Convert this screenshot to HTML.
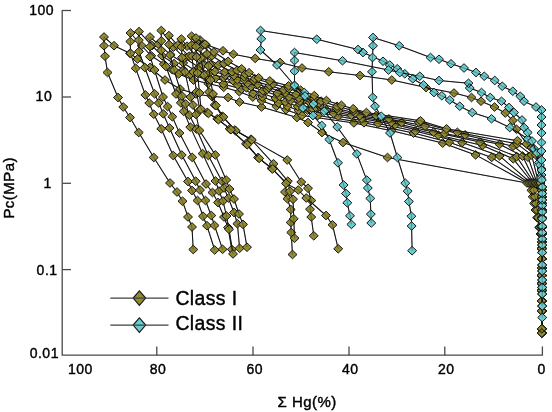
<!DOCTYPE html>
<html lang="en">
<head>
<meta charset="utf-8">
<title>Pc vs Hg saturation</title>
<style>
html,body{margin:0;padding:0;background:#fff;}
body{width:552px;height:412px;overflow:hidden;}
svg{display:block;}
</style>
</head>
<body>
<svg width="552" height="412" viewBox="0 0 552 412">
<rect width="552" height="412" fill="#fff"/>
<path d="M541.8 333.0L541.8 328.8L541.8 311.0L541.8 301.0L541.8 290.5L541.8 283.5L541.8 275.5L541.8 268.0L541.8 258.8L541.8 248.5L541.8 242.0L541.8 234.0L541.8 227.4L541.8 217.6L541.8 210.0L541.8 203.4L541.8 196.8L541.8 190.3L537.8 183.8L529.5 183.5L387.5 157.5L343.0 142.5L322.0 132.5L308.0 122.5L297.0 117.5L261.5 107.0L239.5 102.0L228.0 97.5L212.0 96.5L196.0 94.0L180.0 89.0L165.0 80.0L150.0 67.5L137.5 59.0L130.0 53.3L114.0 45.7L104.0 37.0L104.0 45.8L105.0 56.2L107.5 72.5L118.0 97.5L123.2 107.0L130.0 117.5L138.8 132.5L153.8 157.5L170.0 183.0L177.0 192.0L182.5 201.2L188.0 217.0L192.0 227.0L193.2 249.5" fill="none" stroke="#151515" stroke-width="1.05" stroke-linejoin="round"/>
<path d="M541.8 328.7L546.3 333.0L541.8 337.3L537.3 333.0ZM541.8 324.4L546.3 328.8L541.8 333.1L537.3 328.8ZM541.8 306.7L546.3 311.0L541.8 315.3L537.3 311.0ZM541.8 296.7L546.3 301.0L541.8 305.3L537.3 301.0ZM541.8 286.2L546.3 290.5L541.8 294.8L537.3 290.5ZM541.8 279.2L546.3 283.5L541.8 287.8L537.3 283.5ZM541.8 271.2L546.3 275.5L541.8 279.8L537.3 275.5ZM541.8 263.7L546.3 268.0L541.8 272.3L537.3 268.0ZM541.8 254.4L546.3 258.8L541.8 263.1L537.3 258.8ZM541.8 244.2L546.3 248.5L541.8 252.8L537.3 248.5ZM541.8 237.7L546.3 242.0L541.8 246.3L537.3 242.0ZM541.8 229.7L546.3 234.0L541.8 238.3L537.3 234.0ZM541.8 223.1L546.3 227.4L541.8 231.7L537.3 227.4ZM541.8 213.3L546.3 217.6L541.8 221.9L537.3 217.6ZM541.8 205.7L546.3 210.0L541.8 214.3L537.3 210.0ZM541.8 199.1L546.3 203.4L541.8 207.7L537.3 203.4ZM541.8 192.5L546.3 196.8L541.8 201.1L537.3 196.8ZM541.8 186.0L546.3 190.3L541.8 194.6L537.3 190.3ZM537.8 179.4L542.2 183.8L537.8 188.1L533.2 183.8ZM529.5 179.2L534.0 183.5L529.5 187.8L525.0 183.5ZM387.5 153.2L392.0 157.5L387.5 161.8L383.0 157.5ZM343.0 138.2L347.5 142.5L343.0 146.8L338.5 142.5ZM322.0 128.2L326.5 132.5L322.0 136.8L317.5 132.5ZM308.0 118.2L312.5 122.5L308.0 126.8L303.5 122.5ZM297.0 113.2L301.5 117.5L297.0 121.8L292.5 117.5ZM261.5 102.7L266.0 107.0L261.5 111.3L257.0 107.0ZM239.5 97.7L244.0 102.0L239.5 106.3L235.0 102.0ZM228.0 93.2L232.5 97.5L228.0 101.8L223.5 97.5ZM212.0 92.2L216.5 96.5L212.0 100.8L207.5 96.5ZM196.0 89.7L200.5 94.0L196.0 98.3L191.5 94.0ZM180.0 84.7L184.5 89.0L180.0 93.3L175.5 89.0ZM165.0 75.7L169.5 80.0L165.0 84.3L160.5 80.0ZM150.0 63.2L154.5 67.5L150.0 71.8L145.5 67.5ZM137.5 54.7L142.0 59.0L137.5 63.3L133.0 59.0ZM130.0 49.0L134.5 53.3L130.0 57.6L125.5 53.3ZM114.0 41.4L118.5 45.7L114.0 50.0L109.5 45.7ZM104.0 32.7L108.5 37.0L104.0 41.3L99.5 37.0ZM104.0 41.5L108.5 45.8L104.0 50.0L99.5 45.8ZM105.0 52.0L109.5 56.2L105.0 60.5L100.5 56.2ZM107.5 68.2L112.0 72.5L107.5 76.8L103.0 72.5ZM118.0 93.2L122.5 97.5L118.0 101.8L113.5 97.5ZM123.2 102.7L127.8 107.0L123.2 111.3L118.8 107.0ZM130.0 113.2L134.5 117.5L130.0 121.8L125.5 117.5ZM138.8 128.2L143.2 132.5L138.8 136.8L134.2 132.5ZM153.8 153.2L158.2 157.5L153.8 161.8L149.2 157.5ZM170.0 178.7L174.5 183.0L170.0 187.3L165.5 183.0ZM177.0 187.7L181.5 192.0L177.0 196.3L172.5 192.0ZM182.5 196.9L187.0 201.2L182.5 205.6L178.0 201.2ZM188.0 212.7L192.5 217.0L188.0 221.3L183.5 217.0ZM192.0 222.7L196.5 227.0L192.0 231.3L187.5 227.0ZM193.2 245.2L197.8 249.5L193.2 253.8L188.8 249.5Z" fill="#938b31" stroke="#151515" stroke-width="1.0" stroke-linejoin="miter"/>
<path d="M541.8 333.0L541.8 328.8L541.8 311.0L541.8 301.0L541.8 290.5L541.8 283.5L541.8 275.5L541.8 268.0L541.8 258.8L541.8 248.5L541.8 242.0L541.8 234.0L541.8 227.4L541.8 217.6L541.8 210.0L541.8 203.4L541.8 196.8L541.8 190.3L537.8 183.8L529.5 183.5L387.5 157.5L343.0 142.5L322.0 132.5L308.0 122.5L297.0 117.5L261.5 107.0L239.5 102.0L228.0 97.5L212.0 96.5L196.0 94.0L180.0 89.0L165.0 80.0L150.0 67.5L137.5 59.0L130.0 53.3L114.0 45.7L104.0 37.0L104.0 45.8L105.0 56.2L107.5 72.5L118.0 97.5L123.2 107.0L130.0 117.5L138.8 132.5L153.8 157.5L170.0 183.0L177.0 192.0L182.5 201.2L188.0 217.0L192.0 227.0L193.2 249.5" fill="none" stroke="#151515" stroke-width="0.9" stroke-opacity="0.4" stroke-linejoin="round"/>
<path d="M541.8 333.0L541.8 328.8L541.8 311.0L541.8 301.0L541.8 290.5L541.8 283.5L541.8 275.5L541.8 268.0L541.8 258.8L541.8 248.5L541.8 242.0L541.8 234.0L541.8 227.4L541.8 217.6L541.8 210.0L541.8 203.4L541.8 196.8L541.8 190.3L527.0 183.0L475.6 154.9L442.7 143.1L391.6 130.7L353.9 122.9L302.0 115.4L286.0 109.7L276.4 106.3L261.6 100.7L252.8 97.1L239.3 91.7L223.7 87.3L208.3 83.6L193.5 80.1L178.7 73.9L172.2 69.6L163.8 64.1L151.3 55.8L141.5 45.5L130.5 33.0L130.3 41.5L130.5 53.3L135.7 68.3L145.4 95.0L149.2 103.0L153.8 114.2L161.2 128.8L173.2 155.5L188.0 181.5L192.0 190.5L197.5 200.5L203.0 216.2L207.0 225.8L214.7 250.0" fill="none" stroke="#151515" stroke-width="1.05" stroke-linejoin="round"/>
<path d="M541.8 328.7L546.3 333.0L541.8 337.3L537.3 333.0ZM541.8 324.4L546.3 328.8L541.8 333.1L537.3 328.8ZM541.8 306.7L546.3 311.0L541.8 315.3L537.3 311.0ZM541.8 296.7L546.3 301.0L541.8 305.3L537.3 301.0ZM541.8 286.2L546.3 290.5L541.8 294.8L537.3 290.5ZM541.8 279.2L546.3 283.5L541.8 287.8L537.3 283.5ZM541.8 271.2L546.3 275.5L541.8 279.8L537.3 275.5ZM541.8 263.7L546.3 268.0L541.8 272.3L537.3 268.0ZM541.8 254.4L546.3 258.8L541.8 263.1L537.3 258.8ZM541.8 244.2L546.3 248.5L541.8 252.8L537.3 248.5ZM541.8 237.7L546.3 242.0L541.8 246.3L537.3 242.0ZM541.8 229.7L546.3 234.0L541.8 238.3L537.3 234.0ZM541.8 223.1L546.3 227.4L541.8 231.7L537.3 227.4ZM541.8 213.3L546.3 217.6L541.8 221.9L537.3 217.6ZM541.8 205.7L546.3 210.0L541.8 214.3L537.3 210.0ZM541.8 199.1L546.3 203.4L541.8 207.7L537.3 203.4ZM541.8 192.5L546.3 196.8L541.8 201.1L537.3 196.8ZM541.8 186.0L546.3 190.3L541.8 194.6L537.3 190.3ZM527.0 178.7L531.5 183.0L527.0 187.3L522.5 183.0ZM475.6 150.6L480.1 154.9L475.6 159.2L471.1 154.9ZM442.7 138.8L447.2 143.1L442.7 147.4L438.2 143.1ZM391.6 126.4L396.1 130.7L391.6 135.0L387.1 130.7ZM353.9 118.6L358.4 122.9L353.9 127.2L349.4 122.9ZM302.0 111.1L306.5 115.4L302.0 119.7L297.5 115.4ZM286.0 105.4L290.5 109.7L286.0 114.0L281.5 109.7ZM276.4 102.0L280.9 106.3L276.4 110.6L271.9 106.3ZM261.6 96.4L266.1 100.7L261.6 105.0L257.1 100.7ZM252.8 92.8L257.3 97.1L252.8 101.4L248.3 97.1ZM239.3 87.4L243.8 91.7L239.3 96.0L234.8 91.7ZM223.7 83.0L228.2 87.3L223.7 91.6L219.2 87.3ZM208.3 79.3L212.8 83.6L208.3 87.9L203.8 83.6ZM193.5 75.8L198.0 80.1L193.5 84.4L189.0 80.1ZM178.7 69.6L183.2 73.9L178.7 78.2L174.2 73.9ZM172.2 65.3L176.7 69.6L172.2 73.9L167.7 69.6ZM163.8 59.8L168.3 64.1L163.8 68.4L159.3 64.1ZM151.3 51.5L155.8 55.8L151.3 60.1L146.8 55.8ZM141.5 41.2L146.0 45.5L141.5 49.8L137.0 45.5ZM130.5 28.7L135.0 33.0L130.5 37.3L126.0 33.0ZM130.3 37.2L134.8 41.5L130.3 45.8L125.8 41.5ZM130.5 49.0L135.0 53.3L130.5 57.6L126.0 53.3ZM135.7 64.0L140.2 68.3L135.7 72.6L131.2 68.3ZM145.4 90.7L149.9 95.0L145.4 99.3L140.9 95.0ZM149.2 98.7L153.8 103.0L149.2 107.3L144.8 103.0ZM153.8 110.0L158.2 114.2L153.8 118.5L149.2 114.2ZM161.2 124.5L165.8 128.8L161.2 133.1L156.8 128.8ZM173.2 151.2L177.8 155.5L173.2 159.8L168.8 155.5ZM188.0 177.2L192.5 181.5L188.0 185.8L183.5 181.5ZM192.0 186.2L196.5 190.5L192.0 194.8L187.5 190.5ZM197.5 196.2L202.0 200.5L197.5 204.8L193.0 200.5ZM203.0 211.9L207.5 216.2L203.0 220.6L198.5 216.2ZM207.0 221.4L211.5 225.8L207.0 230.1L202.5 225.8ZM214.7 245.7L219.2 250.0L214.7 254.3L210.2 250.0Z" fill="#938b31" stroke="#151515" stroke-width="1.0" stroke-linejoin="miter"/>
<path d="M541.8 333.0L541.8 328.8L541.8 311.0L541.8 301.0L541.8 290.5L541.8 283.5L541.8 275.5L541.8 268.0L541.8 258.8L541.8 248.5L541.8 242.0L541.8 234.0L541.8 227.4L541.8 217.6L541.8 210.0L541.8 203.4L541.8 196.8L541.8 190.3L527.0 183.0L475.6 154.9L442.7 143.1L391.6 130.7L353.9 122.9L302.0 115.4L286.0 109.7L276.4 106.3L261.6 100.7L252.8 97.1L239.3 91.7L223.7 87.3L208.3 83.6L193.5 80.1L178.7 73.9L172.2 69.6L163.8 64.1L151.3 55.8L141.5 45.5L130.5 33.0L130.3 41.5L130.5 53.3L135.7 68.3L145.4 95.0L149.2 103.0L153.8 114.2L161.2 128.8L173.2 155.5L188.0 181.5L192.0 190.5L197.5 200.5L203.0 216.2L207.0 225.8L214.7 250.0" fill="none" stroke="#151515" stroke-width="0.9" stroke-opacity="0.4" stroke-linejoin="round"/>
<path d="M541.8 333.0L541.8 328.8L541.8 311.0L541.8 301.0L541.8 290.5L541.8 283.5L541.8 275.5L541.8 268.0L541.8 258.8L541.8 248.5L541.8 242.0L541.8 234.0L541.8 227.4L541.8 217.6L541.8 210.0L541.8 203.4L541.8 196.8L541.8 190.3L529.1 183.0L491.7 157.4L449.2 142.2L413.5 133.1L364.0 122.8L317.9 115.4L298.5 110.4L287.5 106.3L278.5 103.0L262.4 97.0L253.1 93.5L241.6 89.1L223.4 84.0L208.1 79.9L190.3 74.2L183.4 69.7L174.0 63.6L162.0 55.7L152.0 45.6L139.0 31.6L138.8 40.2L139.0 51.5L144.8 67.5L154.6 93.8L158.8 103.0L163.2 113.8L169.5 128.0L181.8 155.0L195.8 181.2L200.0 190.0L205.5 200.5L211.2 215.5L214.5 225.5L222.6 249.3" fill="none" stroke="#151515" stroke-width="1.05" stroke-linejoin="round"/>
<path d="M541.8 328.7L546.3 333.0L541.8 337.3L537.3 333.0ZM541.8 324.4L546.3 328.8L541.8 333.1L537.3 328.8ZM541.8 306.7L546.3 311.0L541.8 315.3L537.3 311.0ZM541.8 296.7L546.3 301.0L541.8 305.3L537.3 301.0ZM541.8 286.2L546.3 290.5L541.8 294.8L537.3 290.5ZM541.8 279.2L546.3 283.5L541.8 287.8L537.3 283.5ZM541.8 271.2L546.3 275.5L541.8 279.8L537.3 275.5ZM541.8 263.7L546.3 268.0L541.8 272.3L537.3 268.0ZM541.8 254.4L546.3 258.8L541.8 263.1L537.3 258.8ZM541.8 244.2L546.3 248.5L541.8 252.8L537.3 248.5ZM541.8 237.7L546.3 242.0L541.8 246.3L537.3 242.0ZM541.8 229.7L546.3 234.0L541.8 238.3L537.3 234.0ZM541.8 223.1L546.3 227.4L541.8 231.7L537.3 227.4ZM541.8 213.3L546.3 217.6L541.8 221.9L537.3 217.6ZM541.8 205.7L546.3 210.0L541.8 214.3L537.3 210.0ZM541.8 199.1L546.3 203.4L541.8 207.7L537.3 203.4ZM541.8 192.5L546.3 196.8L541.8 201.1L537.3 196.8ZM541.8 186.0L546.3 190.3L541.8 194.6L537.3 190.3ZM529.1 178.7L533.6 183.0L529.1 187.3L524.6 183.0ZM491.7 153.1L496.2 157.4L491.7 161.7L487.2 157.4ZM449.2 137.9L453.7 142.2L449.2 146.5L444.7 142.2ZM413.5 128.8L418.0 133.1L413.5 137.4L409.0 133.1ZM364.0 118.5L368.5 122.8L364.0 127.1L359.5 122.8ZM317.9 111.1L322.4 115.4L317.9 119.7L313.4 115.4ZM298.5 106.1L303.0 110.4L298.5 114.7L294.0 110.4ZM287.5 102.0L292.0 106.3L287.5 110.6L283.0 106.3ZM278.5 98.7L283.0 103.0L278.5 107.3L274.0 103.0ZM262.4 92.7L266.9 97.0L262.4 101.3L257.9 97.0ZM253.1 89.2L257.6 93.5L253.1 97.8L248.6 93.5ZM241.6 84.8L246.1 89.1L241.6 93.4L237.1 89.1ZM223.4 79.7L227.9 84.0L223.4 88.3L218.9 84.0ZM208.1 75.6L212.6 79.9L208.1 84.2L203.6 79.9ZM190.3 69.9L194.8 74.2L190.3 78.5L185.8 74.2ZM183.4 65.4L187.9 69.7L183.4 74.0L178.9 69.7ZM174.0 59.3L178.5 63.6L174.0 67.9L169.5 63.6ZM162.0 51.4L166.5 55.7L162.0 60.0L157.5 55.7ZM152.0 41.3L156.5 45.6L152.0 49.9L147.5 45.6ZM139.0 27.3L143.5 31.6L139.0 35.9L134.5 31.6ZM138.8 35.9L143.3 40.2L138.8 44.5L134.3 40.2ZM139.0 47.2L143.5 51.5L139.0 55.8L134.5 51.5ZM144.8 63.2L149.3 67.5L144.8 71.8L140.3 67.5ZM154.6 89.5L159.1 93.8L154.6 98.1L150.1 93.8ZM158.8 98.7L163.2 103.0L158.8 107.3L154.2 103.0ZM163.2 109.5L167.8 113.8L163.2 118.0L158.8 113.8ZM169.5 123.7L174.0 128.0L169.5 132.3L165.0 128.0ZM181.8 150.7L186.2 155.0L181.8 159.3L177.2 155.0ZM195.8 176.9L200.2 181.2L195.8 185.6L191.2 181.2ZM200.0 185.7L204.5 190.0L200.0 194.3L195.5 190.0ZM205.5 196.2L210.0 200.5L205.5 204.8L201.0 200.5ZM211.2 211.2L215.8 215.5L211.2 219.8L206.8 215.5ZM214.5 221.2L219.0 225.5L214.5 229.8L210.0 225.5ZM222.6 245.0L227.1 249.3L222.6 253.6L218.1 249.3Z" fill="#938b31" stroke="#151515" stroke-width="1.0" stroke-linejoin="miter"/>
<path d="M541.8 333.0L541.8 328.8L541.8 311.0L541.8 301.0L541.8 290.5L541.8 283.5L541.8 275.5L541.8 268.0L541.8 258.8L541.8 248.5L541.8 242.0L541.8 234.0L541.8 227.4L541.8 217.6L541.8 210.0L541.8 203.4L541.8 196.8L541.8 190.3L529.1 183.0L491.7 157.4L449.2 142.2L413.5 133.1L364.0 122.8L317.9 115.4L298.5 110.4L287.5 106.3L278.5 103.0L262.4 97.0L253.1 93.5L241.6 89.1L223.4 84.0L208.1 79.9L190.3 74.2L183.4 69.7L174.0 63.6L162.0 55.7L152.0 45.6L139.0 31.6L138.8 40.2L139.0 51.5L144.8 67.5L154.6 93.8L158.8 103.0L163.2 113.8L169.5 128.0L181.8 155.0L195.8 181.2L200.0 190.0L205.5 200.5L211.2 215.5L214.5 225.5L222.6 249.3" fill="none" stroke="#151515" stroke-width="0.9" stroke-opacity="0.4" stroke-linejoin="round"/>
<path d="M541.8 333.0L541.8 328.8L541.8 311.0L541.8 301.0L541.8 290.5L541.8 283.5L541.8 275.5L541.8 268.0L541.8 258.8L541.8 248.5L541.8 242.0L540.5 234.0L539.2 227.4L537.1 217.6L535.5 210.0L534.1 203.4L532.7 196.8L531.4 190.3L531.0 183.0L499.6 155.9L462.2 142.6L415.6 131.2L378.0 123.4L338.0 116.2L307.6 110.1L297.7 106.4L285.3 101.8L275.4 98.1L261.9 93.2L246.4 87.7L237.6 84.9L215.4 78.3L202.6 74.5L195.4 70.8L183.2 62.9L170.6 54.7L158.2 44.1L150.0 37.0L150.0 46.6L150.0 56.7L154.5 70.0L163.0 97.0L167.6 106.6L172.3 116.7L179.5 133.1L192.2 157.4L206.0 184.0L212.5 192.5L218.0 202.5L224.0 217.0L228.0 227.5L231.8 249.4" fill="none" stroke="#151515" stroke-width="1.05" stroke-linejoin="round"/>
<path d="M541.8 328.7L546.3 333.0L541.8 337.3L537.3 333.0ZM541.8 324.4L546.3 328.8L541.8 333.1L537.3 328.8ZM541.8 306.7L546.3 311.0L541.8 315.3L537.3 311.0ZM541.8 296.7L546.3 301.0L541.8 305.3L537.3 301.0ZM541.8 286.2L546.3 290.5L541.8 294.8L537.3 290.5ZM541.8 279.2L546.3 283.5L541.8 287.8L537.3 283.5ZM541.8 271.2L546.3 275.5L541.8 279.8L537.3 275.5ZM541.8 263.7L546.3 268.0L541.8 272.3L537.3 268.0ZM541.8 254.4L546.3 258.8L541.8 263.1L537.3 258.8ZM541.8 244.2L546.3 248.5L541.8 252.8L537.3 248.5ZM541.8 237.7L546.3 242.0L541.8 246.3L537.3 242.0ZM540.5 229.7L545.0 234.0L540.5 238.3L536.0 234.0ZM539.2 223.1L543.7 227.4L539.2 231.7L534.7 227.4ZM537.1 213.3L541.6 217.6L537.1 221.9L532.6 217.6ZM535.5 205.7L540.0 210.0L535.5 214.3L531.0 210.0ZM534.1 199.1L538.6 203.4L534.1 207.7L529.6 203.4ZM532.7 192.5L537.2 196.8L532.7 201.1L528.2 196.8ZM531.4 186.0L535.9 190.3L531.4 194.6L526.9 190.3ZM531.0 178.7L535.5 183.0L531.0 187.3L526.5 183.0ZM499.6 151.6L504.1 155.9L499.6 160.2L495.1 155.9ZM462.2 138.3L466.7 142.6L462.2 146.9L457.7 142.6ZM415.6 126.9L420.1 131.2L415.6 135.5L411.1 131.2ZM378.0 119.1L382.5 123.4L378.0 127.7L373.5 123.4ZM338.0 111.9L342.5 116.2L338.0 120.5L333.5 116.2ZM307.6 105.8L312.1 110.1L307.6 114.4L303.1 110.1ZM297.7 102.1L302.2 106.4L297.7 110.7L293.2 106.4ZM285.3 97.5L289.8 101.8L285.3 106.1L280.8 101.8ZM275.4 93.8L279.9 98.1L275.4 102.4L270.9 98.1ZM261.9 88.9L266.4 93.2L261.9 97.5L257.4 93.2ZM246.4 83.4L250.9 87.7L246.4 92.0L241.9 87.7ZM237.6 80.6L242.1 84.9L237.6 89.2L233.1 84.9ZM215.4 74.0L219.9 78.3L215.4 82.6L210.9 78.3ZM202.6 70.2L207.1 74.5L202.6 78.8L198.1 74.5ZM195.4 66.5L199.9 70.8L195.4 75.1L190.9 70.8ZM183.2 58.6L187.7 62.9L183.2 67.2L178.7 62.9ZM170.6 50.4L175.1 54.7L170.6 59.0L166.1 54.7ZM158.2 39.8L162.7 44.1L158.2 48.4L153.7 44.1ZM150.0 32.7L154.5 37.0L150.0 41.3L145.5 37.0ZM150.0 42.3L154.5 46.6L150.0 50.9L145.5 46.6ZM150.0 52.4L154.5 56.7L150.0 61.0L145.5 56.7ZM154.5 65.7L159.0 70.0L154.5 74.3L150.0 70.0ZM163.0 92.7L167.5 97.0L163.0 101.3L158.5 97.0ZM167.6 102.3L172.1 106.6L167.6 110.9L163.1 106.6ZM172.3 112.4L176.8 116.7L172.3 121.0L167.8 116.7ZM179.5 128.8L184.0 133.1L179.5 137.4L175.0 133.1ZM192.2 153.1L196.7 157.4L192.2 161.7L187.7 157.4ZM206.0 179.7L210.5 184.0L206.0 188.3L201.5 184.0ZM212.5 188.2L217.0 192.5L212.5 196.8L208.0 192.5ZM218.0 198.2L222.5 202.5L218.0 206.8L213.5 202.5ZM224.0 212.7L228.5 217.0L224.0 221.3L219.5 217.0ZM228.0 223.2L232.5 227.5L228.0 231.8L223.5 227.5ZM231.8 245.1L236.3 249.4L231.8 253.7L227.3 249.4Z" fill="#938b31" stroke="#151515" stroke-width="1.0" stroke-linejoin="miter"/>
<path d="M541.8 333.0L541.8 328.8L541.8 311.0L541.8 301.0L541.8 290.5L541.8 283.5L541.8 275.5L541.8 268.0L541.8 258.8L541.8 248.5L541.8 242.0L540.5 234.0L539.2 227.4L537.1 217.6L535.5 210.0L534.1 203.4L532.7 196.8L531.4 190.3L531.0 183.0L499.6 155.9L462.2 142.6L415.6 131.2L378.0 123.4L338.0 116.2L307.6 110.1L297.7 106.4L285.3 101.8L275.4 98.1L261.9 93.2L246.4 87.7L237.6 84.9L215.4 78.3L202.6 74.5L195.4 70.8L183.2 62.9L170.6 54.7L158.2 44.1L150.0 37.0L150.0 46.6L150.0 56.7L154.5 70.0L163.0 97.0L167.6 106.6L172.3 116.7L179.5 133.1L192.2 157.4L206.0 184.0L212.5 192.5L218.0 202.5L224.0 217.0L228.0 227.5L231.8 249.4" fill="none" stroke="#151515" stroke-width="0.9" stroke-opacity="0.4" stroke-linejoin="round"/>
<path d="M541.8 333.0L541.8 328.8L541.8 311.0L541.8 301.0L541.8 290.5L541.8 283.5L541.8 275.5L541.8 268.0L541.8 258.8L541.8 248.5L541.8 242.0L541.8 234.0L541.8 227.4L541.8 217.6L541.8 210.0L541.8 203.4L541.8 196.8L541.8 190.3L532.7 183.0L513.2 158.8L482.5 145.4L438.2 135.1L395.3 124.7L361.6 118.6L333.5 113.4L312.7 108.9L300.0 104.1L290.6 100.5L279.3 96.2L262.8 90.6L251.0 86.6L232.9 80.6L223.8 77.7L209.6 73.0L199.0 67.4L184.5 58.0L173.5 47.2L161.3 30.5L161.3 40.9L161.3 50.4L166.0 66.5L176.0 94.0L180.8 102.8L183.7 111.4L190.3 127.1L202.6 153.6L215.5 181.0L219.0 191.0L223.0 201.0L226.5 216.0L229.0 229.3L233.0 253.9" fill="none" stroke="#151515" stroke-width="1.05" stroke-linejoin="round"/>
<path d="M541.8 328.7L546.3 333.0L541.8 337.3L537.3 333.0ZM541.8 324.4L546.3 328.8L541.8 333.1L537.3 328.8ZM541.8 306.7L546.3 311.0L541.8 315.3L537.3 311.0ZM541.8 296.7L546.3 301.0L541.8 305.3L537.3 301.0ZM541.8 286.2L546.3 290.5L541.8 294.8L537.3 290.5ZM541.8 279.2L546.3 283.5L541.8 287.8L537.3 283.5ZM541.8 271.2L546.3 275.5L541.8 279.8L537.3 275.5ZM541.8 263.7L546.3 268.0L541.8 272.3L537.3 268.0ZM541.8 254.4L546.3 258.8L541.8 263.1L537.3 258.8ZM541.8 244.2L546.3 248.5L541.8 252.8L537.3 248.5ZM541.8 237.7L546.3 242.0L541.8 246.3L537.3 242.0ZM541.8 229.7L546.3 234.0L541.8 238.3L537.3 234.0ZM541.8 223.1L546.3 227.4L541.8 231.7L537.3 227.4ZM541.8 213.3L546.3 217.6L541.8 221.9L537.3 217.6ZM541.8 205.7L546.3 210.0L541.8 214.3L537.3 210.0ZM541.8 199.1L546.3 203.4L541.8 207.7L537.3 203.4ZM541.8 192.5L546.3 196.8L541.8 201.1L537.3 196.8ZM541.8 186.0L546.3 190.3L541.8 194.6L537.3 190.3ZM532.7 178.7L537.2 183.0L532.7 187.3L528.2 183.0ZM513.2 154.5L517.7 158.8L513.2 163.1L508.7 158.8ZM482.5 141.1L487.0 145.4L482.5 149.7L478.0 145.4ZM438.2 130.8L442.7 135.1L438.2 139.4L433.7 135.1ZM395.3 120.4L399.8 124.7L395.3 129.0L390.8 124.7ZM361.6 114.3L366.1 118.6L361.6 122.9L357.1 118.6ZM333.5 109.1L338.0 113.4L333.5 117.7L329.0 113.4ZM312.7 104.6L317.2 108.9L312.7 113.2L308.2 108.9ZM300.0 99.8L304.5 104.1L300.0 108.4L295.5 104.1ZM290.6 96.2L295.1 100.5L290.6 104.8L286.1 100.5ZM279.3 91.9L283.8 96.2L279.3 100.5L274.8 96.2ZM262.8 86.3L267.3 90.6L262.8 94.9L258.3 90.6ZM251.0 82.3L255.5 86.6L251.0 90.9L246.5 86.6ZM232.9 76.3L237.4 80.6L232.9 84.9L228.4 80.6ZM223.8 73.4L228.3 77.7L223.8 82.0L219.3 77.7ZM209.6 68.7L214.1 73.0L209.6 77.3L205.1 73.0ZM199.0 63.1L203.5 67.4L199.0 71.7L194.5 67.4ZM184.5 53.7L189.0 58.0L184.5 62.3L180.0 58.0ZM173.5 42.9L178.0 47.2L173.5 51.5L169.0 47.2ZM161.3 26.2L165.8 30.5L161.3 34.8L156.8 30.5ZM161.3 36.6L165.8 40.9L161.3 45.2L156.8 40.9ZM161.3 46.1L165.8 50.4L161.3 54.7L156.8 50.4ZM166.0 62.2L170.5 66.5L166.0 70.8L161.5 66.5ZM176.0 89.7L180.5 94.0L176.0 98.3L171.5 94.0ZM180.8 98.5L185.3 102.8L180.8 107.1L176.3 102.8ZM183.7 107.1L188.2 111.4L183.7 115.7L179.2 111.4ZM190.3 122.8L194.8 127.1L190.3 131.4L185.8 127.1ZM202.6 149.3L207.1 153.6L202.6 157.9L198.1 153.6ZM215.5 176.7L220.0 181.0L215.5 185.3L211.0 181.0ZM219.0 186.7L223.5 191.0L219.0 195.3L214.5 191.0ZM223.0 196.7L227.5 201.0L223.0 205.3L218.5 201.0ZM226.5 211.7L231.0 216.0L226.5 220.3L222.0 216.0ZM229.0 225.0L233.5 229.3L229.0 233.6L224.5 229.3ZM233.0 249.6L237.5 253.9L233.0 258.2L228.5 253.9Z" fill="#938b31" stroke="#151515" stroke-width="1.0" stroke-linejoin="miter"/>
<path d="M541.8 333.0L541.8 328.8L541.8 311.0L541.8 301.0L541.8 290.5L541.8 283.5L541.8 275.5L541.8 268.0L541.8 258.8L541.8 248.5L541.8 242.0L541.8 234.0L541.8 227.4L541.8 217.6L541.8 210.0L541.8 203.4L541.8 196.8L541.8 190.3L532.7 183.0L513.2 158.8L482.5 145.4L438.2 135.1L395.3 124.7L361.6 118.6L333.5 113.4L312.7 108.9L300.0 104.1L290.6 100.5L279.3 96.2L262.8 90.6L251.0 86.6L232.9 80.6L223.8 77.7L209.6 73.0L199.0 67.4L184.5 58.0L173.5 47.2L161.3 30.5L161.3 40.9L161.3 50.4L166.0 66.5L176.0 94.0L180.8 102.8L183.7 111.4L190.3 127.1L202.6 153.6L215.5 181.0L219.0 191.0L223.0 201.0L226.5 216.0L229.0 229.3L233.0 253.9" fill="none" stroke="#151515" stroke-width="0.9" stroke-opacity="0.4" stroke-linejoin="round"/>
<path d="M541.8 333.0L541.8 328.8L541.8 311.0L541.8 301.0L541.8 290.5L541.8 283.5L541.8 275.5L541.8 268.0L541.8 258.8L541.8 248.5L541.8 242.0L540.8 234.0L539.8 227.4L538.2 217.6L537.0 210.0L535.9 203.4L534.9 196.8L533.8 190.3L534.1 183.0L516.7 156.6L480.0 142.1L433.5 132.1L391.3 122.4L351.3 115.3L326.5 110.1L315.7 107.3L300.0 101.3L289.0 97.1L277.4 92.9L267.2 89.6L247.6 83.2L237.4 79.6L225.3 75.3L214.9 71.6L202.9 65.0L189.1 56.1L177.7 45.2L168.9 35.6L169.0 44.5L170.0 55.0L174.0 70.0L182.0 96.0L185.6 103.8L189.4 115.2L196.5 129.0L208.3 155.5L222.0 181.2L224.0 188.0L228.4 198.0L234.0 212.5L237.4 223.7L239.6 248.3" fill="none" stroke="#151515" stroke-width="1.05" stroke-linejoin="round"/>
<path d="M541.8 328.7L546.3 333.0L541.8 337.3L537.3 333.0ZM541.8 324.4L546.3 328.8L541.8 333.1L537.3 328.8ZM541.8 306.7L546.3 311.0L541.8 315.3L537.3 311.0ZM541.8 296.7L546.3 301.0L541.8 305.3L537.3 301.0ZM541.8 286.2L546.3 290.5L541.8 294.8L537.3 290.5ZM541.8 279.2L546.3 283.5L541.8 287.8L537.3 283.5ZM541.8 271.2L546.3 275.5L541.8 279.8L537.3 275.5ZM541.8 263.7L546.3 268.0L541.8 272.3L537.3 268.0ZM541.8 254.4L546.3 258.8L541.8 263.1L537.3 258.8ZM541.8 244.2L546.3 248.5L541.8 252.8L537.3 248.5ZM541.8 237.7L546.3 242.0L541.8 246.3L537.3 242.0ZM540.8 229.7L545.3 234.0L540.8 238.3L536.3 234.0ZM539.8 223.1L544.3 227.4L539.8 231.7L535.3 227.4ZM538.2 213.3L542.7 217.6L538.2 221.9L533.7 217.6ZM537.0 205.7L541.5 210.0L537.0 214.3L532.5 210.0ZM535.9 199.1L540.4 203.4L535.9 207.7L531.4 203.4ZM534.9 192.5L539.4 196.8L534.9 201.1L530.4 196.8ZM533.8 186.0L538.3 190.3L533.8 194.6L529.3 190.3ZM534.1 178.7L538.6 183.0L534.1 187.3L529.6 183.0ZM516.7 152.3L521.2 156.6L516.7 160.9L512.2 156.6ZM480.0 137.8L484.5 142.1L480.0 146.4L475.5 142.1ZM433.5 127.8L438.0 132.1L433.5 136.4L429.0 132.1ZM391.3 118.1L395.8 122.4L391.3 126.7L386.8 122.4ZM351.3 111.0L355.8 115.3L351.3 119.6L346.8 115.3ZM326.5 105.8L331.0 110.1L326.5 114.4L322.0 110.1ZM315.7 103.0L320.2 107.3L315.7 111.6L311.2 107.3ZM300.0 97.0L304.5 101.3L300.0 105.6L295.5 101.3ZM289.0 92.8L293.5 97.1L289.0 101.4L284.5 97.1ZM277.4 88.6L281.9 92.9L277.4 97.2L272.9 92.9ZM267.2 85.3L271.7 89.6L267.2 93.9L262.7 89.6ZM247.6 78.9L252.1 83.2L247.6 87.5L243.1 83.2ZM237.4 75.3L241.9 79.6L237.4 83.9L232.9 79.6ZM225.3 71.0L229.8 75.3L225.3 79.6L220.8 75.3ZM214.9 67.3L219.4 71.6L214.9 75.9L210.4 71.6ZM202.9 60.7L207.4 65.0L202.9 69.3L198.4 65.0ZM189.1 51.8L193.6 56.1L189.1 60.4L184.6 56.1ZM177.7 40.9L182.2 45.2L177.7 49.5L173.2 45.2ZM168.9 31.3L173.4 35.6L168.9 39.9L164.4 35.6ZM169.0 40.2L173.5 44.5L169.0 48.8L164.5 44.5ZM170.0 50.7L174.5 55.0L170.0 59.3L165.5 55.0ZM174.0 65.7L178.5 70.0L174.0 74.3L169.5 70.0ZM182.0 91.7L186.5 96.0L182.0 100.3L177.5 96.0ZM185.6 99.5L190.1 103.8L185.6 108.1L181.1 103.8ZM189.4 110.9L193.9 115.2L189.4 119.5L184.9 115.2ZM196.5 124.7L201.0 129.0L196.5 133.3L192.0 129.0ZM208.3 151.2L212.8 155.5L208.3 159.8L203.8 155.5ZM222.0 176.9L226.5 181.2L222.0 185.5L217.5 181.2ZM224.0 183.7L228.5 188.0L224.0 192.3L219.5 188.0ZM228.4 193.7L232.9 198.0L228.4 202.3L223.9 198.0ZM234.0 208.2L238.5 212.5L234.0 216.8L229.5 212.5ZM237.4 219.4L241.9 223.7L237.4 228.0L232.9 223.7ZM239.6 244.0L244.1 248.3L239.6 252.6L235.1 248.3Z" fill="#938b31" stroke="#151515" stroke-width="1.0" stroke-linejoin="miter"/>
<path d="M541.8 333.0L541.8 328.8L541.8 311.0L541.8 301.0L541.8 290.5L541.8 283.5L541.8 275.5L541.8 268.0L541.8 258.8L541.8 248.5L541.8 242.0L540.8 234.0L539.8 227.4L538.2 217.6L537.0 210.0L535.9 203.4L534.9 196.8L533.8 190.3L534.1 183.0L516.7 156.6L480.0 142.1L433.5 132.1L391.3 122.4L351.3 115.3L326.5 110.1L315.7 107.3L300.0 101.3L289.0 97.1L277.4 92.9L267.2 89.6L247.6 83.2L237.4 79.6L225.3 75.3L214.9 71.6L202.9 65.0L189.1 56.1L177.7 45.2L168.9 35.6L169.0 44.5L170.0 55.0L174.0 70.0L182.0 96.0L185.6 103.8L189.4 115.2L196.5 129.0L208.3 155.5L222.0 181.2L224.0 188.0L228.4 198.0L234.0 212.5L237.4 223.7L239.6 248.3" fill="none" stroke="#151515" stroke-width="0.9" stroke-opacity="0.4" stroke-linejoin="round"/>
<path d="M541.8 333.0L541.8 328.8L541.8 311.0L541.8 301.0L541.8 290.5L541.8 283.5L541.8 275.5L541.8 268.0L541.8 258.8L541.8 248.5L541.8 242.0L541.8 234.0L541.8 227.4L541.8 217.6L541.8 210.0L541.8 203.4L541.8 196.8L541.8 190.3L535.6 183.0L522.6 156.1L499.6 144.3L444.6 133.5L401.7 122.6L359.8 115.6L338.4 110.8L319.8 106.3L309.8 102.4L298.9 98.1L285.3 92.8L268.9 87.7L257.7 84.2L244.4 79.6L234.0 75.6L224.7 72.0L210.3 64.9L195.6 55.4L187.0 46.2L181.3 39.0L181.5 47.0L182.0 57.5L185.0 72.0L190.5 97.0L193.0 105.0L196.0 114.5L199.5 130.5L215.3 154.9L226.2 180.0L229.5 189.0L234.0 199.0L239.0 214.0L243.0 224.4L247.0 247.2" fill="none" stroke="#151515" stroke-width="1.05" stroke-linejoin="round"/>
<path d="M541.8 328.7L546.3 333.0L541.8 337.3L537.3 333.0ZM541.8 324.4L546.3 328.8L541.8 333.1L537.3 328.8ZM541.8 306.7L546.3 311.0L541.8 315.3L537.3 311.0ZM541.8 296.7L546.3 301.0L541.8 305.3L537.3 301.0ZM541.8 286.2L546.3 290.5L541.8 294.8L537.3 290.5ZM541.8 279.2L546.3 283.5L541.8 287.8L537.3 283.5ZM541.8 271.2L546.3 275.5L541.8 279.8L537.3 275.5ZM541.8 263.7L546.3 268.0L541.8 272.3L537.3 268.0ZM541.8 254.4L546.3 258.8L541.8 263.1L537.3 258.8ZM541.8 244.2L546.3 248.5L541.8 252.8L537.3 248.5ZM541.8 237.7L546.3 242.0L541.8 246.3L537.3 242.0ZM541.8 229.7L546.3 234.0L541.8 238.3L537.3 234.0ZM541.8 223.1L546.3 227.4L541.8 231.7L537.3 227.4ZM541.8 213.3L546.3 217.6L541.8 221.9L537.3 217.6ZM541.8 205.7L546.3 210.0L541.8 214.3L537.3 210.0ZM541.8 199.1L546.3 203.4L541.8 207.7L537.3 203.4ZM541.8 192.5L546.3 196.8L541.8 201.1L537.3 196.8ZM541.8 186.0L546.3 190.3L541.8 194.6L537.3 190.3ZM535.6 178.7L540.1 183.0L535.6 187.3L531.1 183.0ZM522.6 151.8L527.1 156.1L522.6 160.4L518.1 156.1ZM499.6 140.0L504.1 144.3L499.6 148.6L495.1 144.3ZM444.6 129.2L449.1 133.5L444.6 137.8L440.1 133.5ZM401.7 118.3L406.2 122.6L401.7 126.9L397.2 122.6ZM359.8 111.3L364.3 115.6L359.8 119.9L355.3 115.6ZM338.4 106.5L342.9 110.8L338.4 115.1L333.9 110.8ZM319.8 102.0L324.3 106.3L319.8 110.6L315.3 106.3ZM309.8 98.1L314.3 102.4L309.8 106.7L305.3 102.4ZM298.9 93.8L303.4 98.1L298.9 102.4L294.4 98.1ZM285.3 88.5L289.8 92.8L285.3 97.1L280.8 92.8ZM268.9 83.4L273.4 87.7L268.9 92.0L264.4 87.7ZM257.7 79.9L262.2 84.2L257.7 88.5L253.2 84.2ZM244.4 75.3L248.9 79.6L244.4 83.9L239.9 79.6ZM234.0 71.3L238.5 75.6L234.0 79.9L229.5 75.6ZM224.7 67.7L229.2 72.0L224.7 76.3L220.2 72.0ZM210.3 60.6L214.8 64.9L210.3 69.2L205.8 64.9ZM195.6 51.1L200.1 55.4L195.6 59.7L191.1 55.4ZM187.0 41.9L191.5 46.2L187.0 50.5L182.5 46.2ZM181.3 34.7L185.8 39.0L181.3 43.3L176.8 39.0ZM181.5 42.7L186.0 47.0L181.5 51.3L177.0 47.0ZM182.0 53.2L186.5 57.5L182.0 61.8L177.5 57.5ZM185.0 67.7L189.5 72.0L185.0 76.3L180.5 72.0ZM190.5 92.7L195.0 97.0L190.5 101.3L186.0 97.0ZM193.0 100.7L197.5 105.0L193.0 109.3L188.5 105.0ZM196.0 110.2L200.5 114.5L196.0 118.8L191.5 114.5ZM199.5 126.2L204.0 130.5L199.5 134.8L195.0 130.5ZM215.3 150.6L219.8 154.9L215.3 159.2L210.8 154.9ZM226.2 175.7L230.7 180.0L226.2 184.3L221.7 180.0ZM229.5 184.7L234.0 189.0L229.5 193.3L225.0 189.0ZM234.0 194.7L238.5 199.0L234.0 203.3L229.5 199.0ZM239.0 209.7L243.5 214.0L239.0 218.3L234.5 214.0ZM243.0 220.1L247.5 224.4L243.0 228.7L238.5 224.4ZM247.0 242.9L251.5 247.2L247.0 251.5L242.5 247.2Z" fill="#938b31" stroke="#151515" stroke-width="1.0" stroke-linejoin="miter"/>
<path d="M541.8 333.0L541.8 328.8L541.8 311.0L541.8 301.0L541.8 290.5L541.8 283.5L541.8 275.5L541.8 268.0L541.8 258.8L541.8 248.5L541.8 242.0L541.8 234.0L541.8 227.4L541.8 217.6L541.8 210.0L541.8 203.4L541.8 196.8L541.8 190.3L535.6 183.0L522.6 156.1L499.6 144.3L444.6 133.5L401.7 122.6L359.8 115.6L338.4 110.8L319.8 106.3L309.8 102.4L298.9 98.1L285.3 92.8L268.9 87.7L257.7 84.2L244.4 79.6L234.0 75.6L224.7 72.0L210.3 64.9L195.6 55.4L187.0 46.2L181.3 39.0L181.5 47.0L182.0 57.5L185.0 72.0L190.5 97.0L193.0 105.0L196.0 114.5L199.5 130.5L215.3 154.9L226.2 180.0L229.5 189.0L234.0 199.0L239.0 214.0L243.0 224.4L247.0 247.2" fill="none" stroke="#151515" stroke-width="0.9" stroke-opacity="0.4" stroke-linejoin="round"/>
<path d="M541.8 333.0L541.8 328.8L541.8 311.0L541.8 301.0L541.8 290.5L541.8 283.5L541.8 275.5L541.8 268.0L541.8 258.8L541.8 248.5L541.8 242.0L541.8 234.0L541.8 227.4L541.8 217.6L541.8 210.0L541.8 203.4L541.8 196.8L541.8 190.3L537.0 183.0L528.0 157.2L513.1 146.2L465.1 134.9L425.0 126.1L388.9 118.9L355.2 113.0L337.0 108.5L319.0 103.3L310.9 100.1L296.0 94.2L283.6 89.7L269.6 85.5L254.0 80.9L244.3 76.8L232.0 71.7L218.2 65.0L204.6 56.4L196.8 46.8L191.6 36.2L191.6 45.0L192.0 56.0L193.5 72.0L196.5 92.0L199.8 110.0L207.2 112.5L217.2 118.8L229.8 128.8L246.0 143.8L258.0 157.5L271.5 168.3L286.5 183.0L285.0 192.0L287.5 198.8L290.8 209.5L290.8 222.5L291.2 232.5L292.5 254.5" fill="none" stroke="#151515" stroke-width="1.05" stroke-linejoin="round"/>
<path d="M541.8 328.7L546.3 333.0L541.8 337.3L537.3 333.0ZM541.8 324.4L546.3 328.8L541.8 333.1L537.3 328.8ZM541.8 306.7L546.3 311.0L541.8 315.3L537.3 311.0ZM541.8 296.7L546.3 301.0L541.8 305.3L537.3 301.0ZM541.8 286.2L546.3 290.5L541.8 294.8L537.3 290.5ZM541.8 279.2L546.3 283.5L541.8 287.8L537.3 283.5ZM541.8 271.2L546.3 275.5L541.8 279.8L537.3 275.5ZM541.8 263.7L546.3 268.0L541.8 272.3L537.3 268.0ZM541.8 254.4L546.3 258.8L541.8 263.1L537.3 258.8ZM541.8 244.2L546.3 248.5L541.8 252.8L537.3 248.5ZM541.8 237.7L546.3 242.0L541.8 246.3L537.3 242.0ZM541.8 229.7L546.3 234.0L541.8 238.3L537.3 234.0ZM541.8 223.1L546.3 227.4L541.8 231.7L537.3 227.4ZM541.8 213.3L546.3 217.6L541.8 221.9L537.3 217.6ZM541.8 205.7L546.3 210.0L541.8 214.3L537.3 210.0ZM541.8 199.1L546.3 203.4L541.8 207.7L537.3 203.4ZM541.8 192.5L546.3 196.8L541.8 201.1L537.3 196.8ZM541.8 186.0L546.3 190.3L541.8 194.6L537.3 190.3ZM537.0 178.7L541.5 183.0L537.0 187.3L532.5 183.0ZM528.0 152.9L532.5 157.2L528.0 161.5L523.5 157.2ZM513.1 141.9L517.6 146.2L513.1 150.5L508.6 146.2ZM465.1 130.6L469.6 134.9L465.1 139.2L460.6 134.9ZM425.0 121.8L429.5 126.1L425.0 130.4L420.5 126.1ZM388.9 114.6L393.4 118.9L388.9 123.2L384.4 118.9ZM355.2 108.7L359.7 113.0L355.2 117.3L350.7 113.0ZM337.0 104.2L341.5 108.5L337.0 112.8L332.5 108.5ZM319.0 99.0L323.5 103.3L319.0 107.6L314.5 103.3ZM310.9 95.8L315.4 100.1L310.9 104.4L306.4 100.1ZM296.0 89.9L300.5 94.2L296.0 98.5L291.5 94.2ZM283.6 85.4L288.1 89.7L283.6 94.0L279.1 89.7ZM269.6 81.2L274.1 85.5L269.6 89.8L265.1 85.5ZM254.0 76.6L258.5 80.9L254.0 85.2L249.5 80.9ZM244.3 72.5L248.8 76.8L244.3 81.1L239.8 76.8ZM232.0 67.4L236.5 71.7L232.0 76.0L227.5 71.7ZM218.2 60.7L222.7 65.0L218.2 69.3L213.7 65.0ZM204.6 52.1L209.1 56.4L204.6 60.7L200.1 56.4ZM196.8 42.5L201.3 46.8L196.8 51.1L192.3 46.8ZM191.6 31.9L196.1 36.2L191.6 40.5L187.1 36.2ZM191.6 40.7L196.1 45.0L191.6 49.3L187.1 45.0ZM192.0 51.7L196.5 56.0L192.0 60.3L187.5 56.0ZM193.5 67.7L198.0 72.0L193.5 76.3L189.0 72.0ZM196.5 87.7L201.0 92.0L196.5 96.3L192.0 92.0ZM199.8 105.7L204.2 110.0L199.8 114.3L195.2 110.0ZM207.2 108.2L211.8 112.5L207.2 116.8L202.8 112.5ZM217.2 114.5L221.8 118.8L217.2 123.0L212.8 118.8ZM229.8 124.5L234.2 128.8L229.8 133.1L225.2 128.8ZM246.0 139.4L250.5 143.8L246.0 148.1L241.5 143.8ZM258.0 153.2L262.5 157.5L258.0 161.8L253.5 157.5ZM271.5 164.0L276.0 168.3L271.5 172.6L267.0 168.3ZM286.5 178.7L291.0 183.0L286.5 187.3L282.0 183.0ZM285.0 187.7L289.5 192.0L285.0 196.3L280.5 192.0ZM287.5 194.4L292.0 198.8L287.5 203.1L283.0 198.8ZM290.8 205.2L295.2 209.5L290.8 213.8L286.2 209.5ZM290.8 218.2L295.2 222.5L290.8 226.8L286.2 222.5ZM291.2 228.2L295.8 232.5L291.2 236.8L286.8 232.5ZM292.5 250.2L297.0 254.5L292.5 258.8L288.0 254.5Z" fill="#938b31" stroke="#151515" stroke-width="1.0" stroke-linejoin="miter"/>
<path d="M541.8 333.0L541.8 328.8L541.8 311.0L541.8 301.0L541.8 290.5L541.8 283.5L541.8 275.5L541.8 268.0L541.8 258.8L541.8 248.5L541.8 242.0L541.8 234.0L541.8 227.4L541.8 217.6L541.8 210.0L541.8 203.4L541.8 196.8L541.8 190.3L537.0 183.0L528.0 157.2L513.1 146.2L465.1 134.9L425.0 126.1L388.9 118.9L355.2 113.0L337.0 108.5L319.0 103.3L310.9 100.1L296.0 94.2L283.6 89.7L269.6 85.5L254.0 80.9L244.3 76.8L232.0 71.7L218.2 65.0L204.6 56.4L196.8 46.8L191.6 36.2L191.6 45.0L192.0 56.0L193.5 72.0L196.5 92.0L199.8 110.0L207.2 112.5L217.2 118.8L229.8 128.8L246.0 143.8L258.0 157.5L271.5 168.3L286.5 183.0L285.0 192.0L287.5 198.8L290.8 209.5L290.8 222.5L291.2 232.5L292.5 254.5" fill="none" stroke="#151515" stroke-width="0.9" stroke-opacity="0.4" stroke-linejoin="round"/>
<path d="M541.8 333.0L541.8 328.8L541.8 311.0L541.8 301.0L541.8 290.5L541.8 283.5L541.8 275.5L541.8 268.0L541.8 258.8L541.8 248.5L541.8 242.0L541.8 234.0L541.8 227.4L541.8 217.6L541.8 210.0L541.8 203.4L541.8 196.8L541.8 190.3L538.6 183.0L531.6 154.9L517.1 143.9L457.4 132.3L418.8 122.2L376.1 115.5L353.6 110.7L337.0 106.2L321.1 101.1L314.2 98.4L303.9 94.2L289.0 88.5L273.1 84.0L254.7 78.6L245.3 74.1L237.0 70.2L224.0 63.5L212.0 55.8L202.8 44.7L200.0 40.0L200.0 48.0L201.0 58.0L204.0 75.0L209.0 92.0L214.8 105.0L222.2 116.2L234.8 130.0L251.0 139.2L273.5 163.8L287.8 181.2L290.0 191.2L293.0 199.2L293.8 218.8L294.5 238.2" fill="none" stroke="#151515" stroke-width="1.05" stroke-linejoin="round"/>
<path d="M541.8 328.7L546.3 333.0L541.8 337.3L537.3 333.0ZM541.8 324.4L546.3 328.8L541.8 333.1L537.3 328.8ZM541.8 306.7L546.3 311.0L541.8 315.3L537.3 311.0ZM541.8 296.7L546.3 301.0L541.8 305.3L537.3 301.0ZM541.8 286.2L546.3 290.5L541.8 294.8L537.3 290.5ZM541.8 279.2L546.3 283.5L541.8 287.8L537.3 283.5ZM541.8 271.2L546.3 275.5L541.8 279.8L537.3 275.5ZM541.8 263.7L546.3 268.0L541.8 272.3L537.3 268.0ZM541.8 254.4L546.3 258.8L541.8 263.1L537.3 258.8ZM541.8 244.2L546.3 248.5L541.8 252.8L537.3 248.5ZM541.8 237.7L546.3 242.0L541.8 246.3L537.3 242.0ZM541.8 229.7L546.3 234.0L541.8 238.3L537.3 234.0ZM541.8 223.1L546.3 227.4L541.8 231.7L537.3 227.4ZM541.8 213.3L546.3 217.6L541.8 221.9L537.3 217.6ZM541.8 205.7L546.3 210.0L541.8 214.3L537.3 210.0ZM541.8 199.1L546.3 203.4L541.8 207.7L537.3 203.4ZM541.8 192.5L546.3 196.8L541.8 201.1L537.3 196.8ZM541.8 186.0L546.3 190.3L541.8 194.6L537.3 190.3ZM538.6 178.7L543.1 183.0L538.6 187.3L534.1 183.0ZM531.6 150.6L536.1 154.9L531.6 159.2L527.1 154.9ZM517.1 139.6L521.6 143.9L517.1 148.2L512.6 143.9ZM457.4 128.0L461.9 132.3L457.4 136.6L452.9 132.3ZM418.8 117.9L423.3 122.2L418.8 126.5L414.3 122.2ZM376.1 111.2L380.6 115.5L376.1 119.8L371.6 115.5ZM353.6 106.4L358.1 110.7L353.6 115.0L349.1 110.7ZM337.0 101.9L341.5 106.2L337.0 110.5L332.5 106.2ZM321.1 96.8L325.6 101.1L321.1 105.4L316.6 101.1ZM314.2 94.1L318.7 98.4L314.2 102.7L309.7 98.4ZM303.9 89.9L308.4 94.2L303.9 98.5L299.4 94.2ZM289.0 84.2L293.5 88.5L289.0 92.8L284.5 88.5ZM273.1 79.7L277.6 84.0L273.1 88.3L268.6 84.0ZM254.7 74.3L259.2 78.6L254.7 82.9L250.2 78.6ZM245.3 69.8L249.8 74.1L245.3 78.4L240.8 74.1ZM237.0 65.9L241.5 70.2L237.0 74.5L232.5 70.2ZM224.0 59.2L228.5 63.5L224.0 67.8L219.5 63.5ZM212.0 51.5L216.5 55.8L212.0 60.1L207.5 55.8ZM202.8 40.4L207.3 44.7L202.8 49.0L198.3 44.7ZM200.0 35.7L204.5 40.0L200.0 44.3L195.5 40.0ZM200.0 43.7L204.5 48.0L200.0 52.3L195.5 48.0ZM201.0 53.7L205.5 58.0L201.0 62.3L196.5 58.0ZM204.0 70.7L208.5 75.0L204.0 79.3L199.5 75.0ZM209.0 87.7L213.5 92.0L209.0 96.3L204.5 92.0ZM214.8 100.7L219.2 105.0L214.8 109.3L210.2 105.0ZM222.2 112.0L226.8 116.2L222.2 120.5L217.8 116.2ZM234.8 125.7L239.2 130.0L234.8 134.3L230.2 130.0ZM251.0 134.9L255.5 139.2L251.0 143.6L246.5 139.2ZM273.5 159.4L278.0 163.8L273.5 168.1L269.0 163.8ZM287.8 176.9L292.3 181.2L287.8 185.6L283.3 181.2ZM290.0 186.9L294.5 191.2L290.0 195.6L285.5 191.2ZM293.0 194.9L297.5 199.2L293.0 203.6L288.5 199.2ZM293.8 214.4L298.2 218.8L293.8 223.1L289.2 218.8ZM294.5 233.9L299.0 238.2L294.5 242.6L290.0 238.2Z" fill="#938b31" stroke="#151515" stroke-width="1.0" stroke-linejoin="miter"/>
<path d="M541.8 333.0L541.8 328.8L541.8 311.0L541.8 301.0L541.8 290.5L541.8 283.5L541.8 275.5L541.8 268.0L541.8 258.8L541.8 248.5L541.8 242.0L541.8 234.0L541.8 227.4L541.8 217.6L541.8 210.0L541.8 203.4L541.8 196.8L541.8 190.3L538.6 183.0L531.6 154.9L517.1 143.9L457.4 132.3L418.8 122.2L376.1 115.5L353.6 110.7L337.0 106.2L321.1 101.1L314.2 98.4L303.9 94.2L289.0 88.5L273.1 84.0L254.7 78.6L245.3 74.1L237.0 70.2L224.0 63.5L212.0 55.8L202.8 44.7L200.0 40.0L200.0 48.0L201.0 58.0L204.0 75.0L209.0 92.0L214.8 105.0L222.2 116.2L234.8 130.0L251.0 139.2L273.5 163.8L287.8 181.2L290.0 191.2L293.0 199.2L293.8 218.8L294.5 238.2" fill="none" stroke="#151515" stroke-width="0.9" stroke-opacity="0.4" stroke-linejoin="round"/>
<path d="M541.8 333.0L541.8 328.8L541.8 311.0L541.8 301.0L541.8 290.5L541.8 283.5L541.8 275.5L541.8 268.0L541.8 258.8L541.8 248.5L541.8 242.0L541.8 234.0L541.8 227.4L541.8 217.6L541.8 210.0L541.8 203.4L541.8 196.8L541.8 190.3L540.0 183.0L535.6 154.7L517.5 140.7L446.5 128.8L420.5 120.8L366.4 112.5L353.2 108.7L341.4 105.3L326.4 100.5L314.3 95.6L300.6 90.1L288.6 85.8L269.8 80.9L258.6 77.8L249.0 72.7L241.6 68.8L228.1 61.3L213.9 52.0L206.0 45.0L207.0 54.0L208.5 66.0L210.5 80.0L213.0 94.0L216.0 105.5L223.4 117.0L235.8 130.8L251.8 140.0L287.2 160.0L301.2 182.0L308.0 188.2L311.2 200.5L310.0 209.2L311.2 217.0L313.8 235.8" fill="none" stroke="#151515" stroke-width="1.05" stroke-linejoin="round"/>
<path d="M541.8 328.7L546.3 333.0L541.8 337.3L537.3 333.0ZM541.8 324.4L546.3 328.8L541.8 333.1L537.3 328.8ZM541.8 306.7L546.3 311.0L541.8 315.3L537.3 311.0ZM541.8 296.7L546.3 301.0L541.8 305.3L537.3 301.0ZM541.8 286.2L546.3 290.5L541.8 294.8L537.3 290.5ZM541.8 279.2L546.3 283.5L541.8 287.8L537.3 283.5ZM541.8 271.2L546.3 275.5L541.8 279.8L537.3 275.5ZM541.8 263.7L546.3 268.0L541.8 272.3L537.3 268.0ZM541.8 254.4L546.3 258.8L541.8 263.1L537.3 258.8ZM541.8 244.2L546.3 248.5L541.8 252.8L537.3 248.5ZM541.8 237.7L546.3 242.0L541.8 246.3L537.3 242.0ZM541.8 229.7L546.3 234.0L541.8 238.3L537.3 234.0ZM541.8 223.1L546.3 227.4L541.8 231.7L537.3 227.4ZM541.8 213.3L546.3 217.6L541.8 221.9L537.3 217.6ZM541.8 205.7L546.3 210.0L541.8 214.3L537.3 210.0ZM541.8 199.1L546.3 203.4L541.8 207.7L537.3 203.4ZM541.8 192.5L546.3 196.8L541.8 201.1L537.3 196.8ZM541.8 186.0L546.3 190.3L541.8 194.6L537.3 190.3ZM540.0 178.7L544.5 183.0L540.0 187.3L535.5 183.0ZM535.6 150.4L540.1 154.7L535.6 159.0L531.1 154.7ZM517.5 136.4L522.0 140.7L517.5 145.0L513.0 140.7ZM446.5 124.5L451.0 128.8L446.5 133.1L442.0 128.8ZM420.5 116.5L425.0 120.8L420.5 125.1L416.0 120.8ZM366.4 108.2L370.9 112.5L366.4 116.8L361.9 112.5ZM353.2 104.4L357.7 108.7L353.2 113.0L348.7 108.7ZM341.4 101.0L345.9 105.3L341.4 109.6L336.9 105.3ZM326.4 96.2L330.9 100.5L326.4 104.8L321.9 100.5ZM314.3 91.3L318.8 95.6L314.3 99.9L309.8 95.6ZM300.6 85.8L305.1 90.1L300.6 94.4L296.1 90.1ZM288.6 81.5L293.1 85.8L288.6 90.1L284.1 85.8ZM269.8 76.6L274.3 80.9L269.8 85.2L265.3 80.9ZM258.6 73.5L263.1 77.8L258.6 82.1L254.1 77.8ZM249.0 68.4L253.5 72.7L249.0 77.0L244.5 72.7ZM241.6 64.5L246.1 68.8L241.6 73.1L237.1 68.8ZM228.1 57.0L232.6 61.3L228.1 65.6L223.6 61.3ZM213.9 47.7L218.4 52.0L213.9 56.3L209.4 52.0ZM206.0 40.7L210.5 45.0L206.0 49.3L201.5 45.0ZM207.0 49.7L211.5 54.0L207.0 58.3L202.5 54.0ZM208.5 61.7L213.0 66.0L208.5 70.3L204.0 66.0ZM210.5 75.7L215.0 80.0L210.5 84.3L206.0 80.0ZM213.0 89.7L217.5 94.0L213.0 98.3L208.5 94.0ZM216.0 101.2L220.5 105.5L216.0 109.8L211.5 105.5ZM223.4 112.7L227.9 117.0L223.4 121.3L218.9 117.0ZM235.8 126.5L240.3 130.8L235.8 135.1L231.3 130.8ZM251.8 135.7L256.3 140.0L251.8 144.3L247.3 140.0ZM287.2 155.7L291.8 160.0L287.2 164.3L282.8 160.0ZM301.2 177.7L305.8 182.0L301.2 186.3L296.8 182.0ZM308.0 183.9L312.5 188.2L308.0 192.6L303.5 188.2ZM311.2 196.2L315.8 200.5L311.2 204.8L306.8 200.5ZM310.0 204.9L314.5 209.2L310.0 213.6L305.5 209.2ZM311.2 212.7L315.8 217.0L311.2 221.3L306.8 217.0ZM313.8 231.4L318.2 235.8L313.8 240.1L309.2 235.8Z" fill="#938b31" stroke="#151515" stroke-width="1.0" stroke-linejoin="miter"/>
<path d="M541.8 333.0L541.8 328.8L541.8 311.0L541.8 301.0L541.8 290.5L541.8 283.5L541.8 275.5L541.8 268.0L541.8 258.8L541.8 248.5L541.8 242.0L541.8 234.0L541.8 227.4L541.8 217.6L541.8 210.0L541.8 203.4L541.8 196.8L541.8 190.3L540.0 183.0L535.6 154.7L517.5 140.7L446.5 128.8L420.5 120.8L366.4 112.5L353.2 108.7L341.4 105.3L326.4 100.5L314.3 95.6L300.6 90.1L288.6 85.8L269.8 80.9L258.6 77.8L249.0 72.7L241.6 68.8L228.1 61.3L213.9 52.0L206.0 45.0L207.0 54.0L208.5 66.0L210.5 80.0L213.0 94.0L216.0 105.5L223.4 117.0L235.8 130.8L251.8 140.0L287.2 160.0L301.2 182.0L308.0 188.2L311.2 200.5L310.0 209.2L311.2 217.0L313.8 235.8" fill="none" stroke="#151515" stroke-width="0.9" stroke-opacity="0.4" stroke-linejoin="round"/>
<path d="M541.8 311.0L541.8 301.0L541.8 290.5L541.8 283.5L541.8 275.5L541.8 268.0L541.8 258.8L541.8 248.5L541.8 242.0L541.8 234.0L541.8 227.4L541.8 217.6L541.8 210.0L541.8 203.4L541.8 196.8L541.8 190.3L540.5 183.0L541.5 168.8L539.0 154.5L531.5 147.5L526.5 143.8L516.5 129.2L512.8 120.5L505.2 113.0L494.5 107.0L481.0 101.2L471.5 97.5L454.0 93.0L426.0 87.5L391.8 80.0L360.0 75.5L328.8 71.8L302.0 68.0L280.0 62.5L255.2 58.4L233.4 54.2L223.0 50.8L205.0 44.2L196.0 38.0L196.0 46.5L196.5 57.0L197.5 73.0L199.5 93.0L201.0 109.2L208.5 113.4L218.5 119.7L231.0 129.7L247.2 144.7L259.2 158.4L272.6 169.0L286.0 183.4L298.2 190.0L306.2 198.0L326.0 215.5L332.5 224.8L338.2 248.8" fill="none" stroke="#151515" stroke-width="1.05" stroke-linejoin="round"/>
<path d="M541.8 306.7L546.3 311.0L541.8 315.3L537.3 311.0ZM541.8 296.7L546.3 301.0L541.8 305.3L537.3 301.0ZM541.8 286.2L546.3 290.5L541.8 294.8L537.3 290.5ZM541.8 279.2L546.3 283.5L541.8 287.8L537.3 283.5ZM541.8 271.2L546.3 275.5L541.8 279.8L537.3 275.5ZM541.8 263.7L546.3 268.0L541.8 272.3L537.3 268.0ZM541.8 254.4L546.3 258.8L541.8 263.1L537.3 258.8ZM541.8 244.2L546.3 248.5L541.8 252.8L537.3 248.5ZM541.8 237.7L546.3 242.0L541.8 246.3L537.3 242.0ZM541.8 229.7L546.3 234.0L541.8 238.3L537.3 234.0ZM541.8 223.1L546.3 227.4L541.8 231.7L537.3 227.4ZM541.8 213.3L546.3 217.6L541.8 221.9L537.3 217.6ZM541.8 205.7L546.3 210.0L541.8 214.3L537.3 210.0ZM541.8 199.1L546.3 203.4L541.8 207.7L537.3 203.4ZM541.8 192.5L546.3 196.8L541.8 201.1L537.3 196.8ZM541.8 186.0L546.3 190.3L541.8 194.6L537.3 190.3ZM540.5 178.7L545.0 183.0L540.5 187.3L536.0 183.0ZM541.5 164.4L546.0 168.8L541.5 173.1L537.0 168.8ZM539.0 150.2L543.5 154.5L539.0 158.8L534.5 154.5ZM531.5 143.2L536.0 147.5L531.5 151.8L527.0 147.5ZM526.5 139.4L531.0 143.8L526.5 148.1L522.0 143.8ZM516.5 125.0L521.0 129.2L516.5 133.6L512.0 129.2ZM512.8 116.2L517.2 120.5L512.8 124.8L508.2 120.5ZM505.2 108.7L509.8 113.0L505.2 117.3L500.8 113.0ZM494.5 102.7L499.0 107.0L494.5 111.3L490.0 107.0ZM481.0 97.0L485.5 101.2L481.0 105.5L476.5 101.2ZM471.5 93.2L476.0 97.5L471.5 101.8L467.0 97.5ZM454.0 88.7L458.5 93.0L454.0 97.3L449.5 93.0ZM426.0 83.2L430.5 87.5L426.0 91.8L421.5 87.5ZM391.8 75.7L396.2 80.0L391.8 84.3L387.2 80.0ZM360.0 71.2L364.5 75.5L360.0 79.8L355.5 75.5ZM328.8 67.5L333.2 71.8L328.8 76.0L324.2 71.8ZM302.0 63.7L306.5 68.0L302.0 72.3L297.5 68.0ZM280.0 58.2L284.5 62.5L280.0 66.8L275.5 62.5ZM255.2 54.1L259.7 58.4L255.2 62.7L250.7 58.4ZM233.4 49.9L237.9 54.2L233.4 58.5L228.9 54.2ZM223.0 46.5L227.5 50.8L223.0 55.1L218.5 50.8ZM205.0 39.9L209.5 44.2L205.0 48.5L200.5 44.2ZM196.0 33.7L200.5 38.0L196.0 42.3L191.5 38.0ZM196.0 42.2L200.5 46.5L196.0 50.8L191.5 46.5ZM196.5 52.7L201.0 57.0L196.5 61.3L192.0 57.0ZM197.5 68.7L202.0 73.0L197.5 77.3L193.0 73.0ZM199.5 88.7L204.0 93.0L199.5 97.3L195.0 93.0ZM201.0 104.9L205.5 109.2L201.0 113.5L196.5 109.2ZM208.5 109.1L213.0 113.4L208.5 117.7L204.0 113.4ZM218.5 115.4L223.0 119.7L218.5 124.0L214.0 119.7ZM231.0 125.4L235.5 129.7L231.0 134.0L226.5 129.7ZM247.2 140.4L251.7 144.7L247.2 149.0L242.7 144.7ZM259.2 154.1L263.7 158.4L259.2 162.7L254.7 158.4ZM272.6 164.7L277.1 169.0L272.6 173.3L268.1 169.0ZM286.0 179.1L290.5 183.4L286.0 187.7L281.5 183.4ZM298.2 185.7L302.8 190.0L298.2 194.3L293.8 190.0ZM306.2 193.7L310.8 198.0L306.2 202.3L301.8 198.0ZM326.0 211.2L330.5 215.5L326.0 219.8L321.5 215.5ZM332.5 220.5L337.0 224.8L332.5 229.1L328.0 224.8ZM338.2 244.5L342.7 248.8L338.2 253.1L333.7 248.8Z" fill="#938b31" stroke="#151515" stroke-width="1.0" stroke-linejoin="miter"/>
<path d="M541.8 311.0L541.8 301.0L541.8 290.5L541.8 283.5L541.8 275.5L541.8 268.0L541.8 258.8L541.8 248.5L541.8 242.0L541.8 234.0L541.8 227.4L541.8 217.6L541.8 210.0L541.8 203.4L541.8 196.8L541.8 190.3L540.5 183.0L541.5 168.8L539.0 154.5L531.5 147.5L526.5 143.8L516.5 129.2L512.8 120.5L505.2 113.0L494.5 107.0L481.0 101.2L471.5 97.5L454.0 93.0L426.0 87.5L391.8 80.0L360.0 75.5L328.8 71.8L302.0 68.0L280.0 62.5L255.2 58.4L233.4 54.2L223.0 50.8L205.0 44.2L196.0 38.0L196.0 46.5L196.5 57.0L197.5 73.0L199.5 93.0L201.0 109.2L208.5 113.4L218.5 119.7L231.0 129.7L247.2 144.7L259.2 158.4L272.6 169.0L286.0 183.4L298.2 190.0L306.2 198.0L326.0 215.5L332.5 224.8L338.2 248.8" fill="none" stroke="#151515" stroke-width="0.9" stroke-opacity="0.4" stroke-linejoin="round"/>
<path d="M542.2 317.5L542.2 306.0L542.2 294.0L542.2 287.5L542.2 280.0L542.2 271.0L542.2 265.0L542.2 252.5L542.2 245.0L542.2 239.0L542.2 232.5L542.2 226.3L542.2 218.7L542.2 212.0L542.2 205.5L542.2 200.0L542.2 193.5L542.2 187.0L541.5 175.0L539.0 162.5L534.0 148.8L527.8 138.8L509.8 127.5L491.5 118.8L472.2 112.5L459.8 106.2L449.8 100.0L441.8 95.8L434.0 92.5L423.5 85.0L412.8 78.8L404.8 73.8L397.2 68.8L389.8 65.0L383.0 61.2L363.0 52.5L358.0 49.5L316.8 39.2L260.5 30.5L261.2 38.8L260.5 50.0L277.0 65.0L294.5 85.5L304.2 92.5L303.0 108.0L313.0 115.5L321.8 125.5L329.2 139.5L338.0 162.8L343.6 185.0L346.0 193.5L347.3 202.8L350.0 215.8L351.4 224.4" fill="none" stroke="#151515" stroke-width="1.05" stroke-linejoin="round"/>
<path d="M542.2 313.2L546.7 317.5L542.2 321.8L537.7 317.5ZM542.2 301.7L546.7 306.0L542.2 310.3L537.7 306.0ZM542.2 289.7L546.7 294.0L542.2 298.3L537.7 294.0ZM542.2 283.2L546.7 287.5L542.2 291.8L537.7 287.5ZM542.2 275.7L546.7 280.0L542.2 284.3L537.7 280.0ZM542.2 266.7L546.7 271.0L542.2 275.3L537.7 271.0ZM542.2 260.7L546.7 265.0L542.2 269.3L537.7 265.0ZM542.2 248.2L546.7 252.5L542.2 256.8L537.7 252.5ZM542.2 240.7L546.7 245.0L542.2 249.3L537.7 245.0ZM542.2 234.7L546.7 239.0L542.2 243.3L537.7 239.0ZM542.2 228.2L546.7 232.5L542.2 236.8L537.7 232.5ZM542.2 222.0L546.7 226.3L542.2 230.6L537.7 226.3ZM542.2 214.4L546.7 218.7L542.2 223.0L537.7 218.7ZM542.2 207.7L546.7 212.0L542.2 216.3L537.7 212.0ZM542.2 201.2L546.7 205.5L542.2 209.8L537.7 205.5ZM542.2 195.7L546.7 200.0L542.2 204.3L537.7 200.0ZM542.2 189.2L546.7 193.5L542.2 197.8L537.7 193.5ZM542.2 182.7L546.7 187.0L542.2 191.3L537.7 187.0ZM541.5 170.7L546.0 175.0L541.5 179.3L537.0 175.0ZM539.0 158.2L543.5 162.5L539.0 166.8L534.5 162.5ZM534.0 144.4L538.5 148.8L534.0 153.1L529.5 148.8ZM527.8 134.4L532.2 138.8L527.8 143.1L523.2 138.8ZM509.8 123.2L514.2 127.5L509.8 131.8L505.2 127.5ZM491.5 114.5L496.0 118.8L491.5 123.0L487.0 118.8ZM472.2 108.2L476.8 112.5L472.2 116.8L467.8 112.5ZM459.8 102.0L464.2 106.2L459.8 110.5L455.2 106.2ZM449.8 95.7L454.2 100.0L449.8 104.3L445.2 100.0ZM441.8 91.5L446.2 95.8L441.8 100.0L437.2 95.8ZM434.0 88.2L438.5 92.5L434.0 96.8L429.5 92.5ZM423.5 80.7L428.0 85.0L423.5 89.3L419.0 85.0ZM412.8 74.5L417.2 78.8L412.8 83.0L408.2 78.8ZM404.8 69.5L409.2 73.8L404.8 78.0L400.2 73.8ZM397.2 64.5L401.8 68.8L397.2 73.0L392.8 68.8ZM389.8 60.7L394.2 65.0L389.8 69.3L385.2 65.0ZM383.0 57.0L387.5 61.2L383.0 65.5L378.5 61.2ZM363.0 48.2L367.5 52.5L363.0 56.8L358.5 52.5ZM358.0 45.2L362.5 49.5L358.0 53.8L353.5 49.5ZM316.8 35.0L321.2 39.2L316.8 43.5L312.2 39.2ZM260.5 26.2L265.0 30.5L260.5 34.8L256.0 30.5ZM261.2 34.5L265.8 38.8L261.2 43.0L256.8 38.8ZM260.5 45.7L265.0 50.0L260.5 54.3L256.0 50.0ZM277.0 60.7L281.5 65.0L277.0 69.3L272.5 65.0ZM294.5 81.2L299.0 85.5L294.5 89.8L290.0 85.5ZM304.2 88.2L308.8 92.5L304.2 96.8L299.8 92.5ZM303.0 103.7L307.5 108.0L303.0 112.3L298.5 108.0ZM313.0 111.2L317.5 115.5L313.0 119.8L308.5 115.5ZM321.8 121.2L326.2 125.5L321.8 129.8L317.2 125.5ZM329.2 135.2L333.8 139.5L329.2 143.8L324.8 139.5ZM338.0 158.5L342.5 162.8L338.0 167.1L333.5 162.8ZM343.6 180.7L348.1 185.0L343.6 189.3L339.1 185.0ZM346.0 189.2L350.5 193.5L346.0 197.8L341.5 193.5ZM347.3 198.5L351.8 202.8L347.3 207.1L342.8 202.8ZM350.0 211.5L354.5 215.8L350.0 220.1L345.5 215.8ZM351.4 220.1L355.9 224.4L351.4 228.7L346.9 224.4Z" fill="#69cdd0" stroke="#151515" stroke-width="1.0" stroke-linejoin="miter"/>
<path d="M542.2 317.5L542.2 306.0L542.2 294.0L542.2 287.5L542.2 280.0L542.2 271.0L542.2 265.0L542.2 252.5L542.2 245.0L542.2 239.0L542.2 232.5L542.2 226.3L542.2 218.7L542.2 212.0L542.2 205.5L542.2 200.0L542.2 193.5L542.2 187.0L541.5 175.0L539.0 162.5L534.0 148.8L527.8 138.8L509.8 127.5L491.5 118.8L472.2 112.5L459.8 106.2L449.8 100.0L441.8 95.8L434.0 92.5L423.5 85.0L412.8 78.8L404.8 73.8L397.2 68.8L389.8 65.0L383.0 61.2L363.0 52.5L358.0 49.5L316.8 39.2L260.5 30.5L261.2 38.8L260.5 50.0L277.0 65.0L294.5 85.5L304.2 92.5L303.0 108.0L313.0 115.5L321.8 125.5L329.2 139.5L338.0 162.8L343.6 185.0L346.0 193.5L347.3 202.8L350.0 215.8L351.4 224.4" fill="none" stroke="#151515" stroke-width="0.9" stroke-opacity="0.4" stroke-linejoin="round"/>
<path d="M542.2 306.0L542.2 294.0L542.2 287.5L542.2 280.0L542.2 271.0L542.2 265.0L542.2 252.5L542.2 245.0L542.2 239.0L542.2 232.5L542.2 226.3L542.2 218.7L542.2 212.0L542.2 205.5L542.2 200.0L542.2 193.5L542.2 187.0L541.0 178.0L540.0 165.0L537.0 153.0L532.0 141.0L527.8 132.5L524.0 127.5L522.0 120.0L514.0 112.5L509.0 107.5L501.5 101.2L490.2 97.5L481.5 92.5L469.8 88.0L468.5 83.2L439.0 80.5L419.8 76.2L399.8 72.5L388.5 70.0L342.5 60.8L294.5 52.5L294.5 60.5L294.5 71.2L294.5 85.5L305.0 96.0L313.5 104.0L324.2 111.2L337.2 127.0L356.8 153.9L366.8 180.1L367.8 188.0L370.3 198.4L370.8 214.1L371.3 223.0" fill="none" stroke="#151515" stroke-width="1.05" stroke-linejoin="round"/>
<path d="M542.2 301.7L546.7 306.0L542.2 310.3L537.7 306.0ZM542.2 289.7L546.7 294.0L542.2 298.3L537.7 294.0ZM542.2 283.2L546.7 287.5L542.2 291.8L537.7 287.5ZM542.2 275.7L546.7 280.0L542.2 284.3L537.7 280.0ZM542.2 266.7L546.7 271.0L542.2 275.3L537.7 271.0ZM542.2 260.7L546.7 265.0L542.2 269.3L537.7 265.0ZM542.2 248.2L546.7 252.5L542.2 256.8L537.7 252.5ZM542.2 240.7L546.7 245.0L542.2 249.3L537.7 245.0ZM542.2 234.7L546.7 239.0L542.2 243.3L537.7 239.0ZM542.2 228.2L546.7 232.5L542.2 236.8L537.7 232.5ZM542.2 222.0L546.7 226.3L542.2 230.6L537.7 226.3ZM542.2 214.4L546.7 218.7L542.2 223.0L537.7 218.7ZM542.2 207.7L546.7 212.0L542.2 216.3L537.7 212.0ZM542.2 201.2L546.7 205.5L542.2 209.8L537.7 205.5ZM542.2 195.7L546.7 200.0L542.2 204.3L537.7 200.0ZM542.2 189.2L546.7 193.5L542.2 197.8L537.7 193.5ZM542.2 182.7L546.7 187.0L542.2 191.3L537.7 187.0ZM541.0 173.7L545.5 178.0L541.0 182.3L536.5 178.0ZM540.0 160.7L544.5 165.0L540.0 169.3L535.5 165.0ZM537.0 148.7L541.5 153.0L537.0 157.3L532.5 153.0ZM532.0 136.7L536.5 141.0L532.0 145.3L527.5 141.0ZM527.8 128.2L532.2 132.5L527.8 136.8L523.2 132.5ZM524.0 123.2L528.5 127.5L524.0 131.8L519.5 127.5ZM522.0 115.7L526.5 120.0L522.0 124.3L517.5 120.0ZM514.0 108.2L518.5 112.5L514.0 116.8L509.5 112.5ZM509.0 103.2L513.5 107.5L509.0 111.8L504.5 107.5ZM501.5 97.0L506.0 101.2L501.5 105.5L497.0 101.2ZM490.2 93.2L494.8 97.5L490.2 101.8L485.8 97.5ZM481.5 88.2L486.0 92.5L481.5 96.8L477.0 92.5ZM469.8 83.7L474.2 88.0L469.8 92.3L465.2 88.0ZM468.5 79.0L473.0 83.2L468.5 87.5L464.0 83.2ZM439.0 76.2L443.5 80.5L439.0 84.8L434.5 80.5ZM419.8 72.0L424.2 76.2L419.8 80.5L415.2 76.2ZM399.8 68.2L404.2 72.5L399.8 76.8L395.2 72.5ZM388.5 65.7L393.0 70.0L388.5 74.3L384.0 70.0ZM342.5 56.5L347.0 60.8L342.5 65.0L338.0 60.8ZM294.5 48.2L299.0 52.5L294.5 56.8L290.0 52.5ZM294.5 56.2L299.0 60.5L294.5 64.8L290.0 60.5ZM294.5 67.0L299.0 71.2L294.5 75.5L290.0 71.2ZM294.5 81.2L299.0 85.5L294.5 89.8L290.0 85.5ZM305.0 91.7L309.5 96.0L305.0 100.3L300.5 96.0ZM313.5 99.7L318.0 104.0L313.5 108.3L309.0 104.0ZM324.2 107.0L328.8 111.2L324.2 115.5L319.8 111.2ZM337.2 122.7L341.8 127.0L337.2 131.3L332.8 127.0ZM356.8 149.6L361.3 153.9L356.8 158.2L352.3 153.9ZM366.8 175.8L371.3 180.1L366.8 184.4L362.3 180.1ZM367.8 183.7L372.3 188.0L367.8 192.3L363.3 188.0ZM370.3 194.1L374.8 198.4L370.3 202.7L365.8 198.4ZM370.8 209.8L375.3 214.1L370.8 218.4L366.3 214.1ZM371.3 218.7L375.8 223.0L371.3 227.3L366.8 223.0Z" fill="#69cdd0" stroke="#151515" stroke-width="1.0" stroke-linejoin="miter"/>
<path d="M542.2 306.0L542.2 294.0L542.2 287.5L542.2 280.0L542.2 271.0L542.2 265.0L542.2 252.5L542.2 245.0L542.2 239.0L542.2 232.5L542.2 226.3L542.2 218.7L542.2 212.0L542.2 205.5L542.2 200.0L542.2 193.5L542.2 187.0L541.0 178.0L540.0 165.0L537.0 153.0L532.0 141.0L527.8 132.5L524.0 127.5L522.0 120.0L514.0 112.5L509.0 107.5L501.5 101.2L490.2 97.5L481.5 92.5L469.8 88.0L468.5 83.2L439.0 80.5L419.8 76.2L399.8 72.5L388.5 70.0L342.5 60.8L294.5 52.5L294.5 60.5L294.5 71.2L294.5 85.5L305.0 96.0L313.5 104.0L324.2 111.2L337.2 127.0L356.8 153.9L366.8 180.1L367.8 188.0L370.3 198.4L370.8 214.1L371.3 223.0" fill="none" stroke="#151515" stroke-width="0.9" stroke-opacity="0.4" stroke-linejoin="round"/>
<path d="M542.2 306.0L542.2 294.0L542.2 287.5L542.2 280.0L542.2 271.0L542.2 265.0L542.2 252.5L542.2 245.0L542.2 239.0L542.2 232.5L542.2 226.3L542.2 218.7L542.2 212.0L542.2 205.5L542.2 200.0L542.2 193.5L542.2 187.0L541.8 180.0L541.5 170.0L541.5 160.0L541.5 151.0L541.5 142.5L541.5 133.0L541.5 125.0L541.5 117.0L541.5 110.0L536.0 107.0L524.0 101.2L520.2 96.2L512.8 91.2L502.2 86.2L494.8 80.5L484.2 76.2L476.0 72.5L464.0 68.0L451.0 63.8L439.0 59.2L430.5 57.5L399.2 45.8L373.0 37.5L373.0 45.8L372.5 57.5L372.0 71.8L372.7 97.3L375.0 106.2L381.2 116.2L390.0 133.0L397.4 157.5L405.3 183.2L407.6 191.2L408.9 201.5L411.4 216.2L411.6 226.0L412.1 250.7" fill="none" stroke="#151515" stroke-width="1.05" stroke-linejoin="round"/>
<path d="M542.2 301.7L546.7 306.0L542.2 310.3L537.7 306.0ZM542.2 289.7L546.7 294.0L542.2 298.3L537.7 294.0ZM542.2 283.2L546.7 287.5L542.2 291.8L537.7 287.5ZM542.2 275.7L546.7 280.0L542.2 284.3L537.7 280.0ZM542.2 266.7L546.7 271.0L542.2 275.3L537.7 271.0ZM542.2 260.7L546.7 265.0L542.2 269.3L537.7 265.0ZM542.2 248.2L546.7 252.5L542.2 256.8L537.7 252.5ZM542.2 240.7L546.7 245.0L542.2 249.3L537.7 245.0ZM542.2 234.7L546.7 239.0L542.2 243.3L537.7 239.0ZM542.2 228.2L546.7 232.5L542.2 236.8L537.7 232.5ZM542.2 222.0L546.7 226.3L542.2 230.6L537.7 226.3ZM542.2 214.4L546.7 218.7L542.2 223.0L537.7 218.7ZM542.2 207.7L546.7 212.0L542.2 216.3L537.7 212.0ZM542.2 201.2L546.7 205.5L542.2 209.8L537.7 205.5ZM542.2 195.7L546.7 200.0L542.2 204.3L537.7 200.0ZM542.2 189.2L546.7 193.5L542.2 197.8L537.7 193.5ZM542.2 182.7L546.7 187.0L542.2 191.3L537.7 187.0ZM541.8 175.7L546.3 180.0L541.8 184.3L537.3 180.0ZM541.5 165.7L546.0 170.0L541.5 174.3L537.0 170.0ZM541.5 155.7L546.0 160.0L541.5 164.3L537.0 160.0ZM541.5 146.7L546.0 151.0L541.5 155.3L537.0 151.0ZM541.5 138.2L546.0 142.5L541.5 146.8L537.0 142.5ZM541.5 128.7L546.0 133.0L541.5 137.3L537.0 133.0ZM541.5 120.7L546.0 125.0L541.5 129.3L537.0 125.0ZM541.5 112.7L546.0 117.0L541.5 121.3L537.0 117.0ZM541.5 105.7L546.0 110.0L541.5 114.3L537.0 110.0ZM536.0 102.7L540.5 107.0L536.0 111.3L531.5 107.0ZM524.0 97.0L528.5 101.2L524.0 105.5L519.5 101.2ZM520.2 92.0L524.8 96.2L520.2 100.5L515.8 96.2ZM512.8 87.0L517.2 91.2L512.8 95.5L508.2 91.2ZM502.2 82.0L506.8 86.2L502.2 90.5L497.8 86.2ZM494.8 76.2L499.2 80.5L494.8 84.8L490.2 80.5ZM484.2 72.0L488.8 76.2L484.2 80.5L479.8 76.2ZM476.0 68.2L480.5 72.5L476.0 76.8L471.5 72.5ZM464.0 63.7L468.5 68.0L464.0 72.3L459.5 68.0ZM451.0 59.5L455.5 63.8L451.0 68.0L446.5 63.8ZM439.0 55.0L443.5 59.2L439.0 63.5L434.5 59.2ZM430.5 53.2L435.0 57.5L430.5 61.8L426.0 57.5ZM399.2 41.5L403.8 45.8L399.2 50.0L394.8 45.8ZM373.0 33.2L377.5 37.5L373.0 41.8L368.5 37.5ZM373.0 41.5L377.5 45.8L373.0 50.0L368.5 45.8ZM372.5 53.2L377.0 57.5L372.5 61.8L368.0 57.5ZM372.0 67.5L376.5 71.8L372.0 76.0L367.5 71.8ZM372.7 93.0L377.2 97.3L372.7 101.6L368.2 97.3ZM375.0 102.0L379.5 106.2L375.0 110.5L370.5 106.2ZM381.2 112.0L385.8 116.2L381.2 120.5L376.8 116.2ZM390.0 128.7L394.5 133.0L390.0 137.3L385.5 133.0ZM397.4 153.2L401.9 157.5L397.4 161.8L392.9 157.5ZM405.3 178.9L409.8 183.2L405.3 187.5L400.8 183.2ZM407.6 186.9L412.1 191.2L407.6 195.5L403.1 191.2ZM408.9 197.2L413.4 201.5L408.9 205.8L404.4 201.5ZM411.4 211.9L415.9 216.2L411.4 220.5L406.9 216.2ZM411.6 221.7L416.1 226.0L411.6 230.3L407.1 226.0ZM412.1 246.4L416.6 250.7L412.1 255.0L407.6 250.7Z" fill="#69cdd0" stroke="#151515" stroke-width="1.0" stroke-linejoin="miter"/>
<path d="M542.2 306.0L542.2 294.0L542.2 287.5L542.2 280.0L542.2 271.0L542.2 265.0L542.2 252.5L542.2 245.0L542.2 239.0L542.2 232.5L542.2 226.3L542.2 218.7L542.2 212.0L542.2 205.5L542.2 200.0L542.2 193.5L542.2 187.0L541.8 180.0L541.5 170.0L541.5 160.0L541.5 151.0L541.5 142.5L541.5 133.0L541.5 125.0L541.5 117.0L541.5 110.0L536.0 107.0L524.0 101.2L520.2 96.2L512.8 91.2L502.2 86.2L494.8 80.5L484.2 76.2L476.0 72.5L464.0 68.0L451.0 63.8L439.0 59.2L430.5 57.5L399.2 45.8L373.0 37.5L373.0 45.8L372.5 57.5L372.0 71.8L372.7 97.3L375.0 106.2L381.2 116.2L390.0 133.0L397.4 157.5L405.3 183.2L407.6 191.2L408.9 201.5L411.4 216.2L411.6 226.0L412.1 250.7" fill="none" stroke="#151515" stroke-width="0.9" stroke-opacity="0.4" stroke-linejoin="round"/>
<g stroke="#4a4a4a" stroke-width="1.3" fill="none" stroke-linecap="butt">
<path d="M62.2 9.9V355.2H543.0"/>
<path d="M62.2 10.5H71.0"/>
<path d="M62.2 97H71.0"/>
<path d="M62.2 183.3H71.0"/>
<path d="M62.2 269.6H71.0"/>
<path d="M156.8 355.2V346.4"/>
<path d="M253 355.2V346.4"/>
<path d="M349 355.2V346.4"/>
<path d="M444.8 355.2V346.4"/>
<path d="M542.4 355.2V346.4"/>
</g>
<g font-family="'Liberation Sans', Arial, Helvetica, sans-serif" fill="#000" stroke="#000" stroke-width="0.4">
<text x="29.3" y="15.3" font-size="14" letter-spacing="0.5">100</text>
<text x="35.6" y="101" font-size="14" letter-spacing="0.5">10</text>
<text x="43.6" y="188.4" font-size="14" letter-spacing="0.5">1</text>
<text x="36.6" y="275.4" font-size="14" letter-spacing="0.5">0.1</text>
<text x="29.7" y="357.7" font-size="14" letter-spacing="0.5">0.01</text>
<text x="67.9" y="373.8" font-size="14" letter-spacing="0.5">100</text>
<text x="149.8" y="373.8" font-size="14" letter-spacing="0.5">80</text>
<text x="246.4" y="373.8" font-size="14" letter-spacing="0.5">60</text>
<text x="342.0" y="373.8" font-size="14" letter-spacing="0.5">40</text>
<text x="438.0" y="373.8" font-size="14" letter-spacing="0.5">20</text>
<text x="537.4" y="373.8" font-size="14" letter-spacing="0.5">0</text>
<text x="277.6" y="407" font-size="15" letter-spacing="0.45">Σ Hg(%)</text>
<text transform="translate(14.4 218.6) rotate(-90)" font-size="15" letter-spacing="0.45">Pc(MPa)</text>
<text x="175.4" y="305" font-size="19.4" letter-spacing="0.4">Class I</text>
<text x="175.4" y="330.1" font-size="19.4" letter-spacing="0.4">Class II</text>
</g>
<path d="M139.4 290.9L145.7 298.1L139.4 305.3L133.1 298.1Z" fill="#938b31" stroke="#161616" stroke-width="1.15"/>
<path d="M110.3 298.1H168.5" stroke="#404040" stroke-width="1.1"/>
<path d="M139.4 317.9L145.7 325.1L139.4 332.3L133.1 325.1Z" fill="#69cdd0" stroke="#161616" stroke-width="1.15"/>
<path d="M110.3 325.1H168.5" stroke="#404040" stroke-width="1.1"/>
</svg>
</body>
</html>
